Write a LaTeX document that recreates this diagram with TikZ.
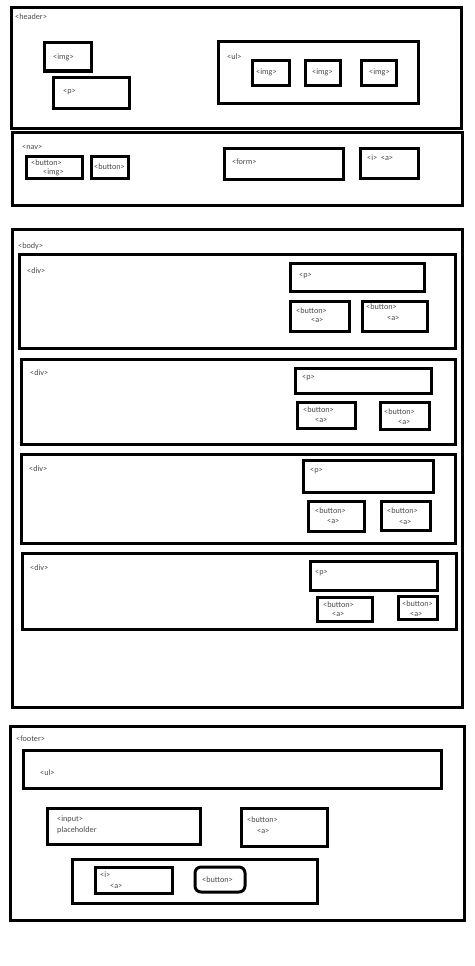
\documentclass[tikz,border=0pt]{standalone}
\usepackage{fontspec}
\setmainfont{Carlito}
\begin{document}
\begin{tikzpicture}[x=1pt, y=-1pt,
		box/.style={draw, line width=3pt},
		lbl/.style={anchor=west, inner sep=0pt, font=\fontsize{8.2}{9}\selectfont, text=black!70}]
	\useasboundingbox (0,0) rectangle (474,966);
	% header
	\draw[box] (11,8) rectangle (461,128);
	\node[lbl] (header) at (15,17) {<header>};
	\draw[box] (44,43) rectangle (91,71);
	\node[lbl] (himg) at (53,57) {<img>};
	\draw[box] (53,77) rectangle (129,108);
	\node[lbl] (hp) at (63,92) {<p>};
	\draw[box] (218,42) rectangle (418,103);
	\node[lbl] (hul) at (227,57) {<ul>};
	\foreach \xa/\xb/\xl [count=\i] in {252/289/256, 305/340/312, 361/396/369} {
		\draw[box] (\xa,61) rectangle (\xb,85);
		\node[lbl] (li\i) at (\xl,72) {<img>};
	};
	
	% nav
	\draw[box] (12,132) rectangle (462,205);
	\node[lbl] (nav) at (22,147) {<nav>};
	\draw[box] (26,156) rectangle (82,178);
	\node[lbl] (nb1) at (31,163) {<button>};
	\node[lbl] (nb1img) at (43,172.5) {<img>};
	\draw[box] (91,156) rectangle (128,178);
	\node[lbl] (nb2) at (94,167) {<button>};
	\draw[box] (224,148) rectangle (343,179);
	\node[lbl] (form) at (232,162) {<form>};
	\draw[box] (360,148) rectangle (418,178);
	\node[lbl] (nia) at (367,158) {<i> \ <a>};
	
	% body
	\draw[box] (12,229) rectangle (462,707);
	\node[lbl] (body) at (18,246) {<body>};
	% div 1
	\draw[box] (19,254) rectangle (455,348);
	\node[lbl] (div1) at (27,271) {<div>};
	\draw[box] (290,263) rectangle (424,291);
	\node[lbl] (p1) at (299,276) {<p>};
	\draw[box] (290,301) rectangle (349,331);
	\node[lbl] (b1a) at (296,311) {<button>};
	\node[lbl] (a1a) at (311,320) {<a>};
	\draw[box] (362,301) rectangle (427,331);
	\node[lbl] (b1b) at (366,307) {<button>};
	\node[lbl] (a1b) at (387,318) {<a>};
	% div 2
	\draw[box] (21,359) rectangle (455,444);
	\node[lbl] (div2) at (30,373) {<div>};
	\draw[box] (295,368) rectangle (431,393);
	\node[lbl] (p2) at (302,378) {<p>};
	\draw[box] (297,402) rectangle (355,428);
	\node[lbl] (b2a) at (303,410) {<button>};
	\node[lbl] (a2a) at (315,420) {<a>};
	\draw[box] (380,402) rectangle (429,429);
	\node[lbl] (b2b) at (384,412) {<button>};
	\node[lbl] (a2b) at (398,422) {<a>};
	% div 3
	\draw[box] (21,454) rectangle (455,543);
	\node[lbl] (div3) at (29,469) {<div>};
	\draw[box] (303,460) rectangle (433,492);
	\node[lbl] (p3) at (310,471) {<p>};
	\draw[box] (308,501) rectangle (364,531);
	\node[lbl] (b3a) at (315,511) {<button>};
	\node[lbl] (a3a) at (327,521) {<a>};
	\draw[box] (381,501) rectangle (430,530);
	\node[lbl] (b3b) at (387,511) {<button>};
	\node[lbl] (a3b) at (399,522) {<a>};
	% div 4
	\draw[box] (22,553) rectangle (456,629);
	\node[lbl] (div4) at (30,568) {<div>};
	\draw[box] (310,561) rectangle (437,590);
	\node[lbl] (p4) at (315,573) {<p>};
	\draw[box] (317,597) rectangle (372,621);
	\node[lbl] (b4a) at (323,605) {<button>};
	\node[lbl] (a4a) at (332,614) {<a>};
	\draw[box] (398,596) rectangle (437,619);
	\node[lbl] (b4b) at (402,604) {<button>};
	\node[lbl] (a4b) at (410,614) {<a>};
	
	% footer
	\draw[box] (10,726) rectangle (464,920);
	\node[lbl] (footer) at (16,739) {<footer>};
	\draw[box] (23,750) rectangle (441,788);
	\node[lbl] (ful) at (40,773) {<ul>};
	\draw[box] (47,808) rectangle (200,844);
	\node[lbl] (input) at (57,819) {<input>};
	\node[lbl] (ph) at (57,830) {placeholder};
	\draw[box] (241,808) rectangle (327,846);
	\node[lbl] (fb) at (247,820) {<button>};
	\node[lbl] (fa) at (257,831) {<a>};
	\draw[box] (72,859) rectangle (317,903);
	\draw[box] (95,867) rectangle (172,893);
	\node[lbl] (fi) at (100,875) {<i>};
	\node[lbl] (fia) at (110,886) {<a>};
	\draw[box, rounded corners=6pt] (195,867) rectangle (245,892);
	\node[lbl] (fb2) at (202,880) {<button>};
\end{tikzpicture}
\end{document}
